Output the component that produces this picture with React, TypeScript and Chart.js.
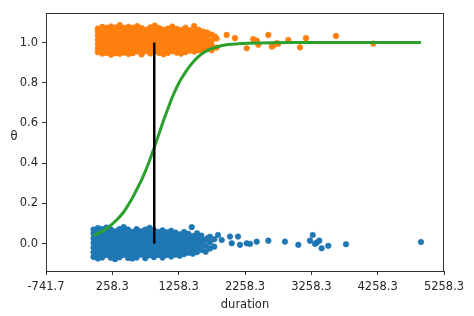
import { useEffect, useRef } from 'react';
import { Chart, registerables } from 'chart.js';

Chart.register(...registerables);

// ---- data ----
const xTickValues = [-741.7, 258.3, 1258.3, 2258.3, 3258.3, 4258.3, 5258.3];
const yTickValues = [0, 0.2, 0.4, 0.6, 0.8, 1.0];
const xLabel = 'duration';
const yLabel = 'θ';
const boundaryDuration = 890;

const curveDuration = [-25, 100, 223, 330, 424, 500, 574, 650, 725, 810, 886, 960, 1027, 1100, 1177, 1280, 1379, 1480, 1580, 1700, 1832, 2000, 2183, 2500, 3000, 4000, 4911];
const curveTheta = [0.040, 0.060, 0.088, 0.120, 0.155, 0.193, 0.236, 0.284, 0.336, 0.405, 0.475, 0.545, 0.610, 0.675, 0.740, 0.810, 0.862, 0.905, 0.937, 0.962, 0.978, 0.990, 0.995, 0.998, 1.0, 1.0, 1.0];

// dense cluster of class 0 (duration, jittered outcome values per column)
const blueColumns: [number, number[]][] = [
  [-25, [-0.066, -0.043, -0.020, 0.003, 0.026, 0.050, 0.070]],
  [40, [-0.074, -0.055, -0.032, -0.009, 0.015, 0.038, 0.061, 0.078]],
  [105, [-0.069, -0.045, -0.022, 0.001, 0.024, 0.048, 0.072]],
  [170, [-0.057, -0.034, -0.011, 0.013, 0.036, 0.059, 0.080]],
  [235, [-0.070, -0.046, -0.023, 0.002, 0.025, 0.049, 0.071]],
  [300, [-0.077, -0.058, -0.033, -0.010, 0.014, 0.037, 0.061]],
  [365, [-0.068, -0.045, -0.021, 0.003, 0.026, 0.050, 0.073]],
  [430, [-0.056, -0.034, -0.009, 0.015, 0.038, 0.060, 0.082]],
  [495, [-0.071, -0.047, -0.022, 0.001, 0.024, 0.048, 0.070]],
  [560, [-0.074, -0.057, -0.033, -0.011, 0.013, 0.036, 0.059]],
  [625, [-0.069, -0.044, -0.021, 0.002, 0.026, 0.049, 0.072]],
  [690, [-0.055, -0.032, -0.010, 0.014, 0.037, 0.061]],
  [755, [-0.072, -0.046, -0.023, 0.000, 0.025, 0.048, 0.070]],
  [820, [-0.058, -0.034, -0.011, 0.013, 0.036, 0.060, 0.079]],
  [885, [-0.067, -0.045, -0.022, 0.002, 0.024, 0.049, 0.068]],
  [950, [-0.056, -0.033, -0.009, 0.014, 0.038, 0.058]],
  [1015, [-0.069, -0.046, -0.021, 0.001, 0.025, 0.047, 0.066]],
  [1080, [-0.057, -0.034, -0.010, 0.013, 0.036, 0.057]],
  [1145, [-0.064, -0.044, -0.022, 0.002, 0.026, 0.048, 0.064]],
  [1210, [-0.055, -0.031, -0.009, 0.015, 0.037, 0.055]],
  [1275, [-0.060, -0.042, -0.020, 0.003, 0.025, 0.046]],
  [1340, [-0.052, -0.030, -0.008, 0.014, 0.036, 0.058]],
  [1405, [-0.045, -0.019, 0.004, 0.027, 0.049]],
  [1470, [-0.050, -0.030, -0.007, 0.016, 0.038]],
  [1535, [-0.042, -0.018, 0.005, 0.028, 0.052]],
  [1600, [-0.031, -0.006, 0.017, 0.040]],
  [1665, [-0.040, -0.012, 0.020]],
  [1730, [-0.024, 0.006, 0.034]],
  [1795, [-0.015, 0.022]],
];

// sparse class 0 points
const blueScatter: [number, number][] = [
  [1455, 0.082], [1625, 0.010], [1700, 0.028], [1851, 0.043], [1907, 0.018],
  [2032, 0.035], [2058, 0.002], [2153, 0.035], [2183, -0.006], [2284, 0.002],
  [2334, -0.001], [2435, 0.010], [2610, 0.015], [2861, 0.010], [3062, -0.006],
  [3238, 0.015], [3279, 0.043], [3339, 0.005], [3378, 0.015], [3313, -0.001],
  [3414, -0.023], [3514, -0.011], [3781, -0.003], [4911, 0.008],
];

// dense cluster of class 1
const orangeColumns: [number, number[]][] = [
  [40, [0.952, 0.972, 0.993, 1.014, 1.035, 1.055, 1.070]],
  [106, [0.945, 0.962, 0.983, 1.004, 1.025, 1.046, 1.066, 1.078]],
  [172, [0.948, 0.970, 0.991, 1.012, 1.033, 1.054, 1.074]],
  [238, [0.940, 0.958, 0.980, 1.001, 1.022, 1.043, 1.064, 1.080]],
  [304, [0.947, 0.968, 0.990, 1.011, 1.032, 1.054, 1.075]],
  [370, [0.944, 0.957, 0.979, 1.000, 1.022, 1.043, 1.064, 1.087]],
  [436, [0.950, 0.969, 0.990, 1.012, 1.033, 1.053, 1.073]],
  [502, [0.943, 0.959, 0.980, 1.001, 1.021, 1.042, 1.063, 1.078]],
  [568, [0.947, 0.968, 0.989, 1.011, 1.032, 1.054, 1.074]],
  [634, [0.956, 0.978, 0.999, 1.021, 1.043, 1.065, 1.082]],
  [700, [0.941, 0.967, 0.990, 1.012, 1.033, 1.055, 1.072]],
  [766, [0.957, 0.979, 1.000, 1.022, 1.044, 1.064]],
  [832, [0.946, 0.968, 0.989, 1.011, 1.033, 1.054, 1.076]],
  [898, [0.956, 0.978, 1.000, 1.022, 1.043, 1.065, 1.085]],
  [964, [0.948, 0.969, 0.990, 1.012, 1.033, 1.055, 1.072]],
  [1030, [0.942, 0.958, 0.979, 1.001, 1.022, 1.043, 1.064]],
  [1096, [0.949, 0.969, 0.990, 1.011, 1.032, 1.053, 1.070]],
  [1162, [0.957, 0.978, 1.000, 1.021, 1.043, 1.066, 1.080]],
  [1228, [0.950, 0.970, 0.991, 1.012, 1.033, 1.054, 1.068]],
  [1294, [0.945, 0.959, 0.980, 1.002, 1.023, 1.044, 1.062]],
  [1360, [0.952, 0.970, 0.991, 1.012, 1.034, 1.055, 1.074]],
  [1426, [0.960, 0.981, 1.002, 1.023, 1.045, 1.062]],
  [1492, [0.955, 0.972, 0.992, 1.013, 1.034, 1.055, 1.082]],
  [1558, [0.962, 0.982, 1.003, 1.024, 1.046, 1.064]],
  [1624, [0.958, 0.975, 0.995, 1.015, 1.036, 1.055]],
  [1690, [0.968, 0.987, 1.007, 1.028, 1.050]],
  [1756, [0.962, 0.985, 1.010, 1.040]],
  [1830, [0.975, 1.020]],
];

// sparse class 1 points
const orangeScatter: [number, number][] = [
  [1806, 1.030], [1982, 1.038], [2107, 1.022], [2284, 0.972], [2383, 1.017],
  [2435, 1.010], [2459, 0.989], [2610, 1.038], [2661, 0.980], [2685, 0.984],
  [2736, 0.997], [2760, 0.994], [2911, 1.013], [3087, 0.976], [3178, 1.022],
  [3630, 1.033], [4192, 0.995],
];

const X_MIN = -741.7;
const X_MAX = 5258.3;
const Y_MIN = -0.136;
const Y_MAX = 1.147;

const BLUE = '#1f77b4';
const ORANGE = '#ff7f0e';
const GREEN = '#2ca02c';
const TEXT = '#262626';
const FONT = 'DejaVu Sans';

function toPoints(cols: [number, number[]][], extra: [number, number][]) {
  const pts: { x: number; y: number }[] = [];
  cols.forEach(([x, ys]) => ys.forEach((y) => pts.push({ x, y })));
  extra.forEach(([x, y]) => pts.push({ x, y }));
  return pts;
}

const framePlugin = {
  id: 'frame',
  afterDraw(chart: any) {
    const { ctx, chartArea } = chart;
    const { left, top, right, bottom } = chartArea;
    ctx.save();
    ctx.strokeStyle = '#333';
    ctx.lineWidth = 1;
    ctx.strokeRect(Math.round(left) + 0.5, Math.round(top) + 0.5, Math.round(right - left) - 1, Math.round(bottom - top));
    ctx.fillStyle = TEXT;
    ctx.font = `11.5px "${FONT}"`;
    ctx.textAlign = 'center';
    ctx.textBaseline = 'middle';
    ctx.fillText(yLabel, 14, 137);
    ctx.restore();
  },
};

export default function App() {
  const ref = useRef<HTMLCanvasElement | null>(null);

  useEffect(() => {
    if (!ref.current) return;
    const chart = new Chart(ref.current, {
      type: 'scatter',
      data: {
        datasets: [
          {
            label: 'boundary',
            data: [{ x: boundaryDuration, y: 0 }, { x: boundaryDuration, y: 1 }],
            showLine: true,
            borderColor: '#000000',
            borderWidth: 2.5,
            pointRadius: 0,
            order: 0,
          } as any,
          {
            label: 'θ curve',
            data: curveDuration.map((x, i) => ({ x, y: curveTheta[i] })),
            showLine: true,
            borderColor: GREEN,
            borderWidth: 3,
            pointRadius: 0,
            cubicInterpolationMode: 'monotone',
            order: 1,
          } as any,
          {
            label: '1',
            data: toPoints(orangeColumns, orangeScatter),
            backgroundColor: ORANGE,
            borderColor: ORANGE,
            borderWidth: 0.6,
            pointRadius: 2.8,
            order: 2,
          },
          {
            label: '0',
            data: toPoints(blueColumns, blueScatter),
            backgroundColor: BLUE,
            borderColor: BLUE,
            borderWidth: 0.6,
            pointRadius: 2.8,
            order: 3,
          },
        ],
      },
      options: {
        animation: false,
        responsive: false,
        devicePixelRatio: 1,
        layout: { padding: { top: 13, right: 30, left: 0, bottom: 0 } },
        plugins: { legend: { display: false }, tooltip: { enabled: false } },
        scales: {
          x: {
            type: 'linear',
            min: X_MIN,
            max: X_MAX,
            afterBuildTicks: (scale: any) => {
              scale.ticks = xTickValues.map((v) => ({ value: v }));
            },
            afterFit: (scale: any) => {
              scale.height = 45;
            },
            ticks: {
              autoSkip: false,
              maxRotation: 0,
              padding: 5,
              color: TEXT,
              font: { family: FONT, size: 11.5 },
              callback: (v: any) => Number(v).toFixed(1),
            },
            grid: { display: true, drawOnChartArea: false, drawTicks: true, tickLength: 4, color: '#333' },
            border: { display: false },
            title: {
              display: true,
              text: xLabel,
              color: TEXT,
              font: { family: FONT, size: 11.5 },
              padding: { top: 0, bottom: 4 },
            },
          },
          y: {
            type: 'linear',
            min: Y_MIN,
            max: Y_MAX,
            afterBuildTicks: (scale: any) => {
              scale.ticks = yTickValues.map((v) => ({ value: v }));
            },
            afterFit: (scale: any) => {
              scale.width = 46;
            },
            ticks: {
              autoSkip: false,
              padding: 4,
              color: TEXT,
              font: { family: FONT, size: 11.5 },
              callback: (v: any) => Number(v).toFixed(1),
            },
            grid: { display: true, drawOnChartArea: false, drawTicks: true, tickLength: 4, color: '#333' },
            border: { display: false },
            title: { display: false },
          },
        },
      },
      plugins: [framePlugin],
    });
    return () => chart.destroy();
  }, []);

  return (
    <div style={{ position: 'absolute', left: 0, top: 0, width: 474, height: 316, background: '#fff' }}>
      <canvas ref={ref} width={474} height={316} style={{ display: 'block' }} />
    </div>
  );
}
